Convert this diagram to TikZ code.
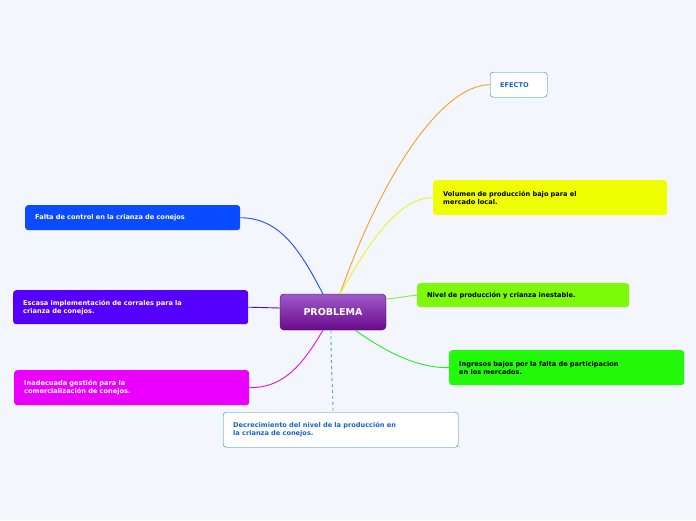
\documentclass[tikz,border=0pt]{standalone}
\usepackage{fontspec}
\setmainfont{DejaVu Sans}
\begin{document}
\begin{tikzpicture}[x=1pt,y=-1pt,
 box/.style={rounded corners=3pt,anchor=north west,inner sep=0pt,font=\bfseries\fontsize{6.6}{8}\selectfont,align=left,text width=#1},
 lnk/.style={line width=0.9pt}]
\fill[fill={rgb,255:red,243;green,246;blue,253}] (0,0) rectangle (696,520);
\useasboundingbox (0,0) rectangle (696,520);
% central
\shade[top color={rgb,255:red,160;green,90;blue,200},bottom color={rgb,255:red,105;green,10;blue,140},rounded corners=4pt,draw={rgb,255:red,60;green,0;blue,80}] (280,294) rectangle (386,330);
\node[text=white,font=\bfseries\fontsize{9.5}{11}\selectfont] (P) at (333,312) {PROBLEMA};
\coordinate (Pt) at (340,294);
\coordinate (Dt) at (333,412);
% boxes
\node[box=37pt,draw={rgb,255:red,30;green,120;blue,225},fill=white,text={rgb,255:red,20;green,100;blue,210},minimum height=25pt,inner xsep=10pt] (E) at (490,72) {EFECTO};
\node[box=214pt,fill={rgb,255:red,240;green,255;blue,0},minimum height=35pt,inner xsep=10pt] (V) at (433,180) {Volumen de producción bajo para el\\mercado local.};
\node[box=192pt,fill={rgb,255:red,125;green,250;blue,10},minimum height=24pt,inner xsep=10pt] (N) at (417,283) {Nivel de producción y crianza inestable.};
\node[box=215pt,fill={rgb,255:red,35;green,250;blue,10},minimum height=35pt,inner xsep=10pt] (I) at (449,350) {Ingresos bajos por la falta de participacion\\en los mercados.};
\node[box=195pt,fill={rgb,255:red,10;green,75;blue,255},text=white,minimum height=25pt,inner xsep=10pt] (F) at (25,205) {Falta de control en la crianza de conejos};
\node[box=215pt,fill={rgb,255:red,85;green,0;blue,255},text=white,minimum height=34pt,inner xsep=10pt] (S) at (13,290) {Escasa implementación de corrales para la\\crianza de conejos.};
\node[box=215pt,fill={rgb,255:red,235;green,0;blue,255},text=white,minimum height=35pt,inner xsep=10pt] (A) at (14,370) {Inadecuada gestión para la\\comercialización de conejos.};
\node[box=215pt,draw={rgb,255:red,30;green,120;blue,225},fill=white,text={rgb,255:red,20;green,100;blue,210},minimum height=35pt,inner xsep=10pt] (D) at (223,412) {Decrecimiento del nivel de la producción en\\la crianza de conejos.};
% connectors
\draw[lnk,draw={rgb,255:red,245;green,160;blue,40}] (Pt) .. controls (380,180) and (440,85) .. (E.west);
\draw[lnk,draw={rgb,255:red,240;green,240;blue,40}] (Pt) .. controls (370,240) and (400,197) .. (V.west);
\draw[lnk,draw={rgb,255:red,140;green,240;blue,40}] (386,299) .. controls (400,298) and (405,296) .. (N.west);
\draw[lnk,draw={rgb,255:red,40;green,235;blue,40}] (355,330) .. controls (390,355) and (420,368) .. (I.west);
\draw[lnk,draw={rgb,255:red,30;green,80;blue,250}] (323,294) .. controls (300,250) and (280,218) .. (F.east);
\draw[lnk,draw={rgb,255:red,85;green,0;blue,230}] (S.east) -- (280,308);
\draw[lnk,draw={rgb,255:red,225;green,20;blue,225}] (323,330) .. controls (300,370) and (280,388) .. (A.east);
\draw[lnk,dashed,draw={rgb,255:red,100;green,150;blue,220}] (331,330) .. controls (331,370) and (333,390) .. (Dt);
\end{tikzpicture}
\end{document}
